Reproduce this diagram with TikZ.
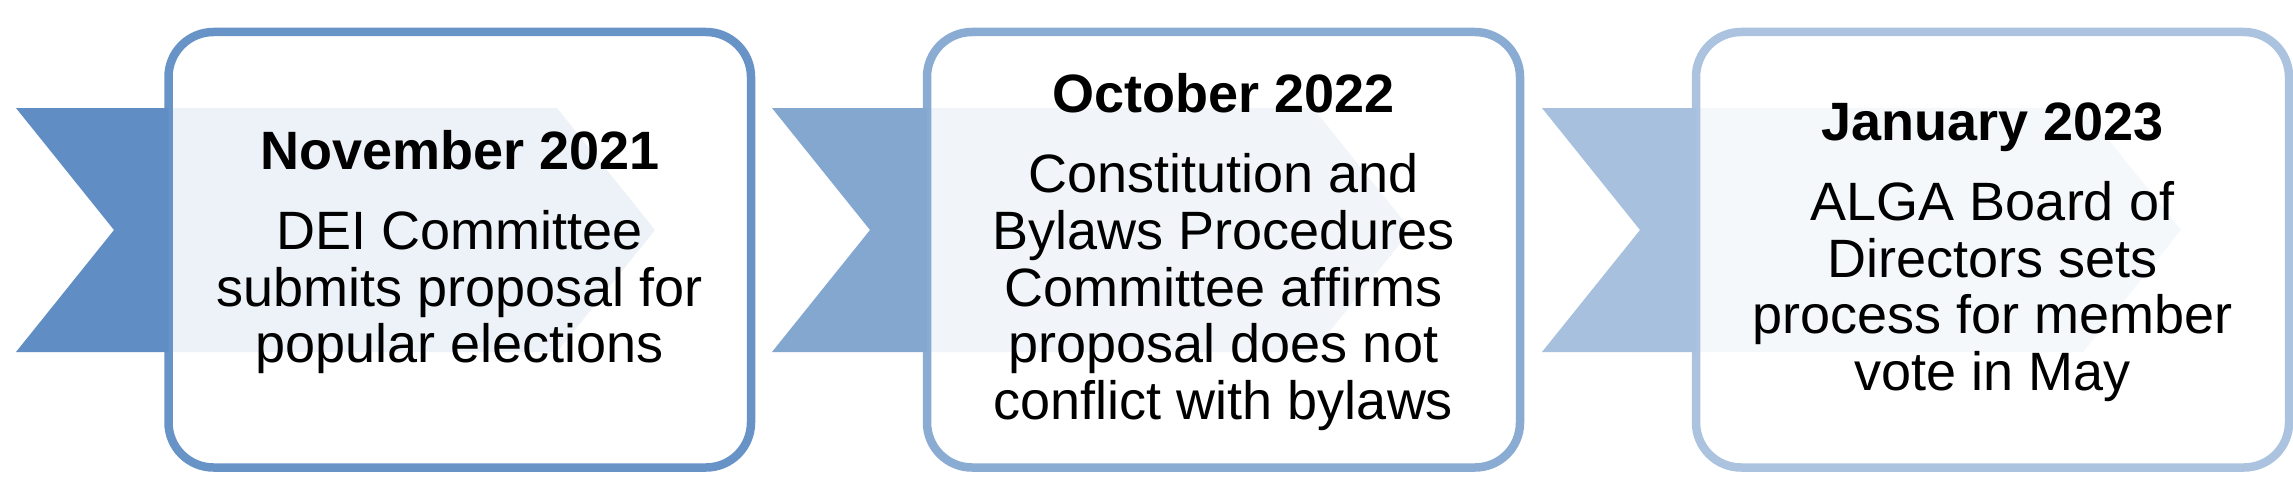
\documentclass[tikz,border=0pt]{standalone}
\usepackage{fontspec}
\setmainfont{Liberation Sans}
\definecolor{cA}{HTML}{608EC4}
\definecolor{cB}{HTML}{84A7D0}
\definecolor{cC}{HTML}{A7C0DE}
\tikzset{
  stagebox/.style={rectangle, rounded corners=45pt, line width=8.5pt,
    fill=white, fill opacity=0.89, draw opacity=0.95, inner sep=0pt,
    minimum height=435.5pt},
  stagetext/.style={align=center, inner sep=0pt, text=black,
    font=\fontsize{54pt}{56.7pt}\selectfont},
}
\newcommand{\chev}[2]{%
  \fill[#2] (#1,108) -- ++(541,0) -- ++(98,122) -- ++(-98,122) -- ++(-541,0) -- ++(98,-122) -- cycle;}
\begin{document}
\begin{tikzpicture}[x=1pt,y=-1pt]
\useasboundingbox (0,0) rectangle (2293,503);
\fill[white] (0,0) rectangle (2293,503);
% chevrons
\chev{16}{cA}
\chev{772}{cB}
\chev{1542}{cC}
% boxes
\node[stagebox, draw=cA, minimum width=582.5pt] (b1) at (459.75,249.75) {};
\node[stagebox, draw=cB, minimum width=593pt] (b2) at (1223.5,249.75) {};
\node[stagebox, draw=cC, minimum width=593pt] (b3) at (1992.5,249.75) {};
% texts
\node[stagetext, yshift=-2.5pt] (t1) at (b1.center) {{\bfseries November 2021}\\[23pt]DEI Committee\\submits proposal for\\popular elections};
\node[stagetext, yshift=-2.5pt] (t2) at (b2.center) {{\bfseries October 2022}\\[23pt]Constitution and\\Bylaws Procedures\\Committee affirms\\proposal does not\\conflict with bylaws};
\node[stagetext, yshift=-2.5pt] (t3) at (b3.center) {{\bfseries January 2023}\\[23pt]ALGA Board of\\Directors sets\\process for member\\vote in May};
\end{tikzpicture}
\end{document}
